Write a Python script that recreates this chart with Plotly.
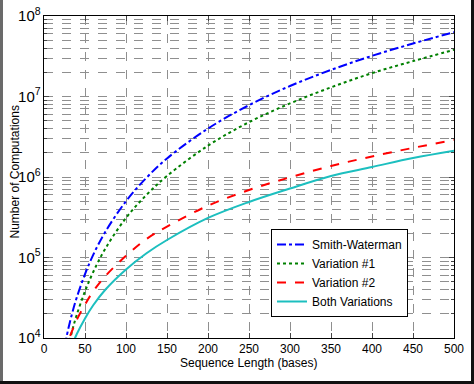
import plotly.graph_objects as go

seq_len = [25, 30, 35, 40, 50, 60, 75, 100, 125, 150, 200, 250, 300, 350, 400, 450, 500]
smith_waterman = [7.8e3, 1.35e4, 2.15e4, 3.2e4, 6.2e4, 1.08e5, 2.1e5, 5.0e5, 9.8e5, 1.7e6,
                  4.0e6, 7.8e6, 1.35e7, 2.14e7, 3.2e7, 4.55e7, 6.3e7]
variation1 = [4.7e3, 8.0e3, 1.3e4, 1.95e4, 3.8e4, 6.6e4, 1.3e5, 3.1e5, 6.0e5, 1.03e6,
              2.45e6, 4.8e6, 8.2e6, 1.3e7, 1.95e7, 2.75e7, 3.8e7]
variation2 = [6.5e3, 9.4e3, 1.28e4, 1.68e4, 2.6e4, 3.8e4, 5.9e4, 1.05e5, 1.7e5, 2.42e5,
              4.4e5, 6.9e5, 9.9e5, 1.37e6, 1.8e6, 2.3e6, 2.88e6]
both_variations = [4.3e3, 6.3e3, 8.5e3, 1.12e4, 1.75e4, 2.55e4, 4.0e4, 7.1e4, 1.13e5, 1.65e5,
                   3.1e5, 4.9e5, 7.2e5, 1.03e6, 1.33e6, 1.72e6, 2.12e6]

x_ticks = [0, 50, 100, 150, 200, 250, 300, 350, 400, 450, 500]
x_title = "Sequence Length (bases)"
y_title = "Number of Computations"

series = [
    ("Smith-Waterman", smith_waterman, "#0000FF", "dashdot"),
    ("Variation #1", variation1, "#008000", "dot"),
    ("Variation #2", variation2, "#FF0000", "dash"),
    ("Both Variations", both_variations, "#1CBFBF", "solid"),
]

W, H = 474, 384
ML, MR, MT, MB = 44, 20, 16, 46
PW, PH = W - ML - MR, H - MT - MB

fig = go.Figure()
for name, vals, col, dash in series:
    fig.add_trace(go.Scatter(x=seq_len, y=vals, mode="lines", name=name,
                             line=dict(color=col, dash=dash, width=2, shape="spline")))

font = dict(family="Liberation Sans, Arial, sans-serif", size=12, color="black")
grid_col = "#8f8f8f"


def px_x(px):
    return (px - ML) / PW


def px_y(py):
    return (H - MB - py) / PH


fig.update_layout(
    width=W, height=H,
    margin=dict(l=ML, r=MR, t=MT, b=MB, autoexpand=False),
    paper_bgcolor="white", plot_bgcolor="white",
    font=font,
    showlegend=True,
    legend=dict(x=px_x(271), y=px_y(229), xanchor="left", yanchor="top",
                bgcolor="white", bordercolor="black", borderwidth=1,
                font=dict(family="Liberation Sans, Arial, sans-serif", size=12),
                tracegroupgap=0, itemwidth=30),
    xaxis=dict(range=[0, 500], tickvals=x_ticks, ticks="inside", ticklen=5,
               showline=True, linecolor="black", linewidth=1, mirror="ticks",
               showgrid=True, gridcolor=grid_col, griddash="dash", gridwidth=1,
               zeroline=False, automargin=False),
    yaxis=dict(type="log", range=[4, 8], dtick=1, exponentformat="power",
               ticks="inside", ticklen=5,
               showline=True, linecolor="black", linewidth=1, mirror="ticks",
               showgrid=True, gridcolor=grid_col, griddash="dash", gridwidth=1,
               minor=dict(ticks="inside", ticklen=3, showgrid=True, gridcolor=grid_col,
                          griddash="dash", gridwidth=1),
               zeroline=False, automargin=False),
)

fig.add_annotation(text=x_title, xref="paper", yref="paper", x=px_x(248.5), y=px_y(363),
                   xanchor="center", yanchor="middle", showarrow=False, font=font)
fig.add_annotation(text=y_title, xref="paper", yref="paper", x=px_x(14), y=px_y(172.5),
                   xanchor="center", yanchor="middle", textangle=-90, showarrow=False, font=font)

fig.add_shape(type="rect", xref="paper", yref="paper", x0=px_x(0), x1=px_x(3),
              y0=px_y(H), y1=px_y(0), fillcolor="#6a6a6a", line=dict(width=0), layer="above")
fig.add_shape(type="rect", xref="paper", yref="paper", x0=px_x(471), x1=px_x(W),
              y0=px_y(H), y1=px_y(0), fillcolor="#111111", line=dict(width=0), layer="above")
fig.add_shape(type="rect", xref="paper", yref="paper", x0=px_x(0), x1=px_x(W),
              y0=px_y(H), y1=px_y(381), fillcolor="#111111", line=dict(width=0), layer="above")

fig.write_html("out.html", config={"displayModeBar": False},
               post_script="document.body.style.margin='0';document.body.style.overflow='hidden';")
